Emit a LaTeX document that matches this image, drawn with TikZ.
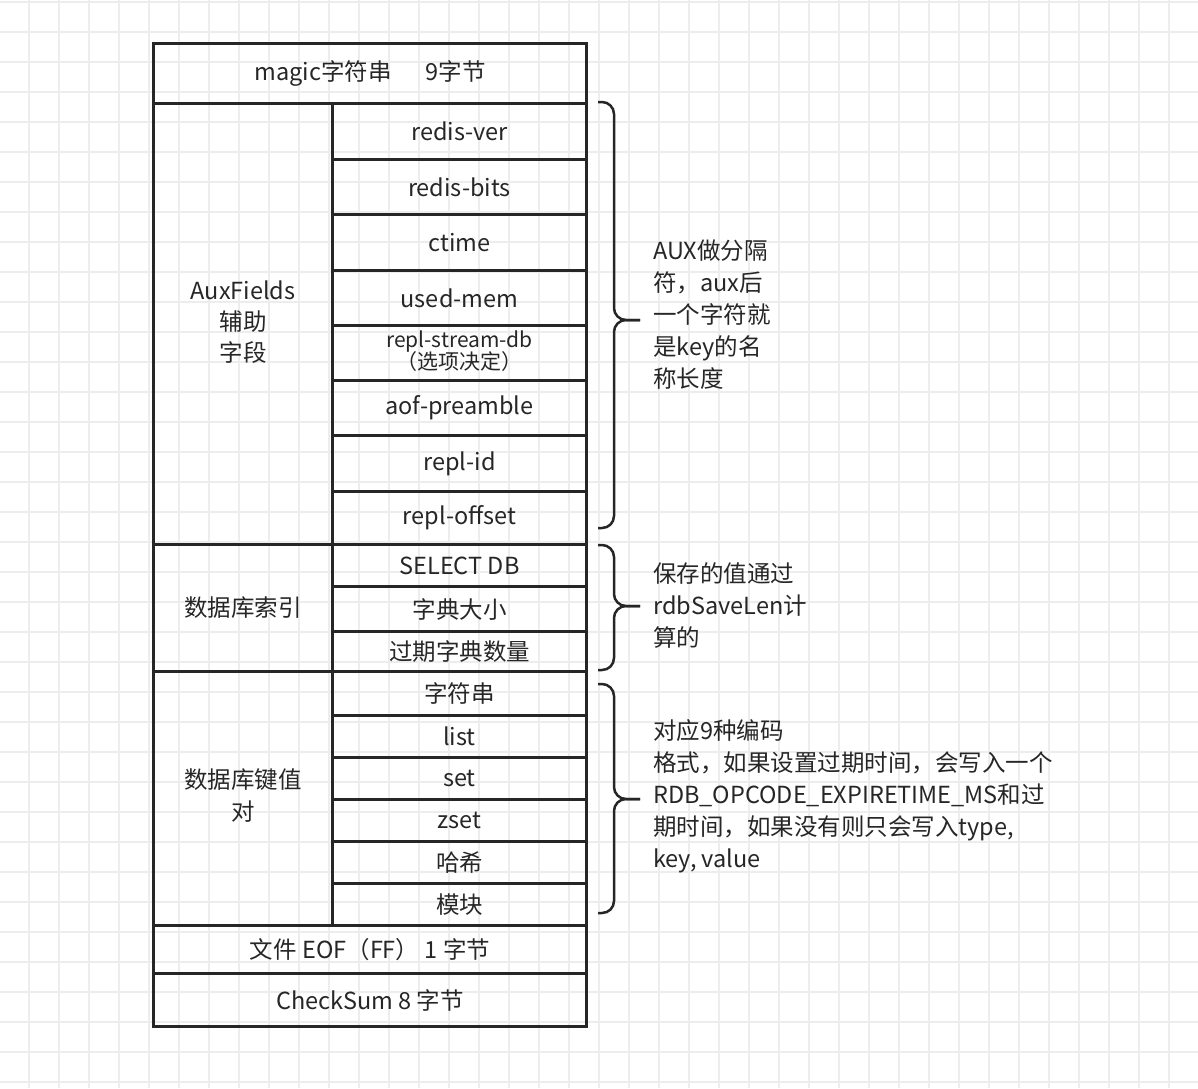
\documentclass[tikz,border=0pt]{standalone}
\usepackage{fontspec}
\setmainfont{Noto Sans CJK SC}
\begin{document}
\begin{tikzpicture}[x=1pt,y=-1pt,
  cell/.style={draw=black!85,line width=3pt,anchor=north west,inner sep=0pt,font=\fontsize{23.5}{32}\selectfont,text=black!85},
  brace/.style={draw=black!85,line width=2.5pt,rounded corners=12pt},
  note/.style={anchor=north west,align=left,inner sep=0pt,font=\fontsize{23.5}{32}\selectfont,text=black!85}]
\useasboundingbox (0,0) rectangle (1198,1088);
\foreach \i in {0,...,39} {\draw[black!7,line width=1.2pt] (29+30*\i,0) -- (29+30*\i,1088);}
\foreach \i in {0,...,36} {\draw[black!7,line width=1.2pt] (0,2+30*\i) -- (1198,2+30*\i);}
\newcommand{\cellat}[6]{\node[cell,minimum width=#4,minimum height=#5] (#1) at (#2,#3) {#6};}
\cellat{magic}{152}{42}{433}{60}{magic字符串\quad\ \ 9字节}
\cellat{aux}{152}{102}{179}{441}{\begin{tabular}{@{}c@{}}AuxFields\\[-1pt]辅助\\[-1pt]字段\end{tabular}}
\cellat{r1}{331}{102}{254}{56}{redis-ver}
\cellat{r2}{331}{158}{254}{55}{redis-bits}
\cellat{r3}{331}{213}{254}{56}{ctime}
\cellat{r4}{331}{269}{254}{55}{\raisebox{-6pt}{used-mem}}
\cellat{r5}{331}{324}{254}{55}{}
\node[font=\fontsize{21}{24}\selectfont,align=center,text=black!85] (r5t) at ([yshift=2pt]r5.center) {repl-stream-db\\[-2pt]（选项决定）};
\cellat{r6}{331}{379}{254}{55}{aof-preamble}
\cellat{r7}{331}{434}{254}{56}{repl-id}
\cellat{r8}{331}{490}{254}{53}{\raisebox{-3pt}{repl-offset}}
\cellat{db}{152}{543}{179}{127}{数据库索引}
\cellat{d1}{331}{543}{254}{42}{SELECT DB}
\cellat{d2}{331}{585}{254}{45}{字典大小}
\cellat{d3}{331}{630}{254}{40}{过期字典数量}
\cellat{kv}{152}{670}{179}{254}{\begin{tabular}{@{}c@{}}数据库键值\\对\end{tabular}}
\cellat{k1}{331}{670}{254}{44}{字符串}
\cellat{k2}{331}{714}{254}{42}{list}
\cellat{k3}{331}{756}{254}{42}{set}
\cellat{k4}{331}{798}{254}{42}{zset}
\cellat{k5}{331}{840}{254}{42}{哈希}
\cellat{k6}{331}{882}{254}{42}{模块}
\cellat{eof}{152}{924}{433}{48}{文件 EOF（FF） 1 字节}
\cellat{cs}{152}{972}{433}{53}{CheckSum 8 字节}
\draw[brace] (598,102) -- (614,102) -- (614,320) -- (640,320);
\draw[brace] (598,528) -- (614,528) -- (614,320) -- (640,320);
\draw[brace] (598,545) -- (614,545) -- (614,606) -- (640,606);
\draw[brace] (598,670) -- (614,670) -- (614,606) -- (640,606);
\draw[brace] (598,684) -- (614,684) -- (614,799) -- (640,799);
\draw[brace] (598,913) -- (614,913) -- (614,799) -- (640,799);
\node[note] (n1) at (653,240) {AUX做分隔\\符，aux后\\一个字符就\\是key的名\\称长度};
\node[note] (n2) at (653,562) {保存的值通过\\rdbSaveLen计\\算的};
\node[note] (n3) at (653,719) {对应9种编码\\格式，如果设置过期时间，会写入一个\\RDB\_OPCODE\_EXPIRETIME\_MS和过\\期时间，如果没有则只会写入type,\\key, value};
\end{tikzpicture}
\end{document}
